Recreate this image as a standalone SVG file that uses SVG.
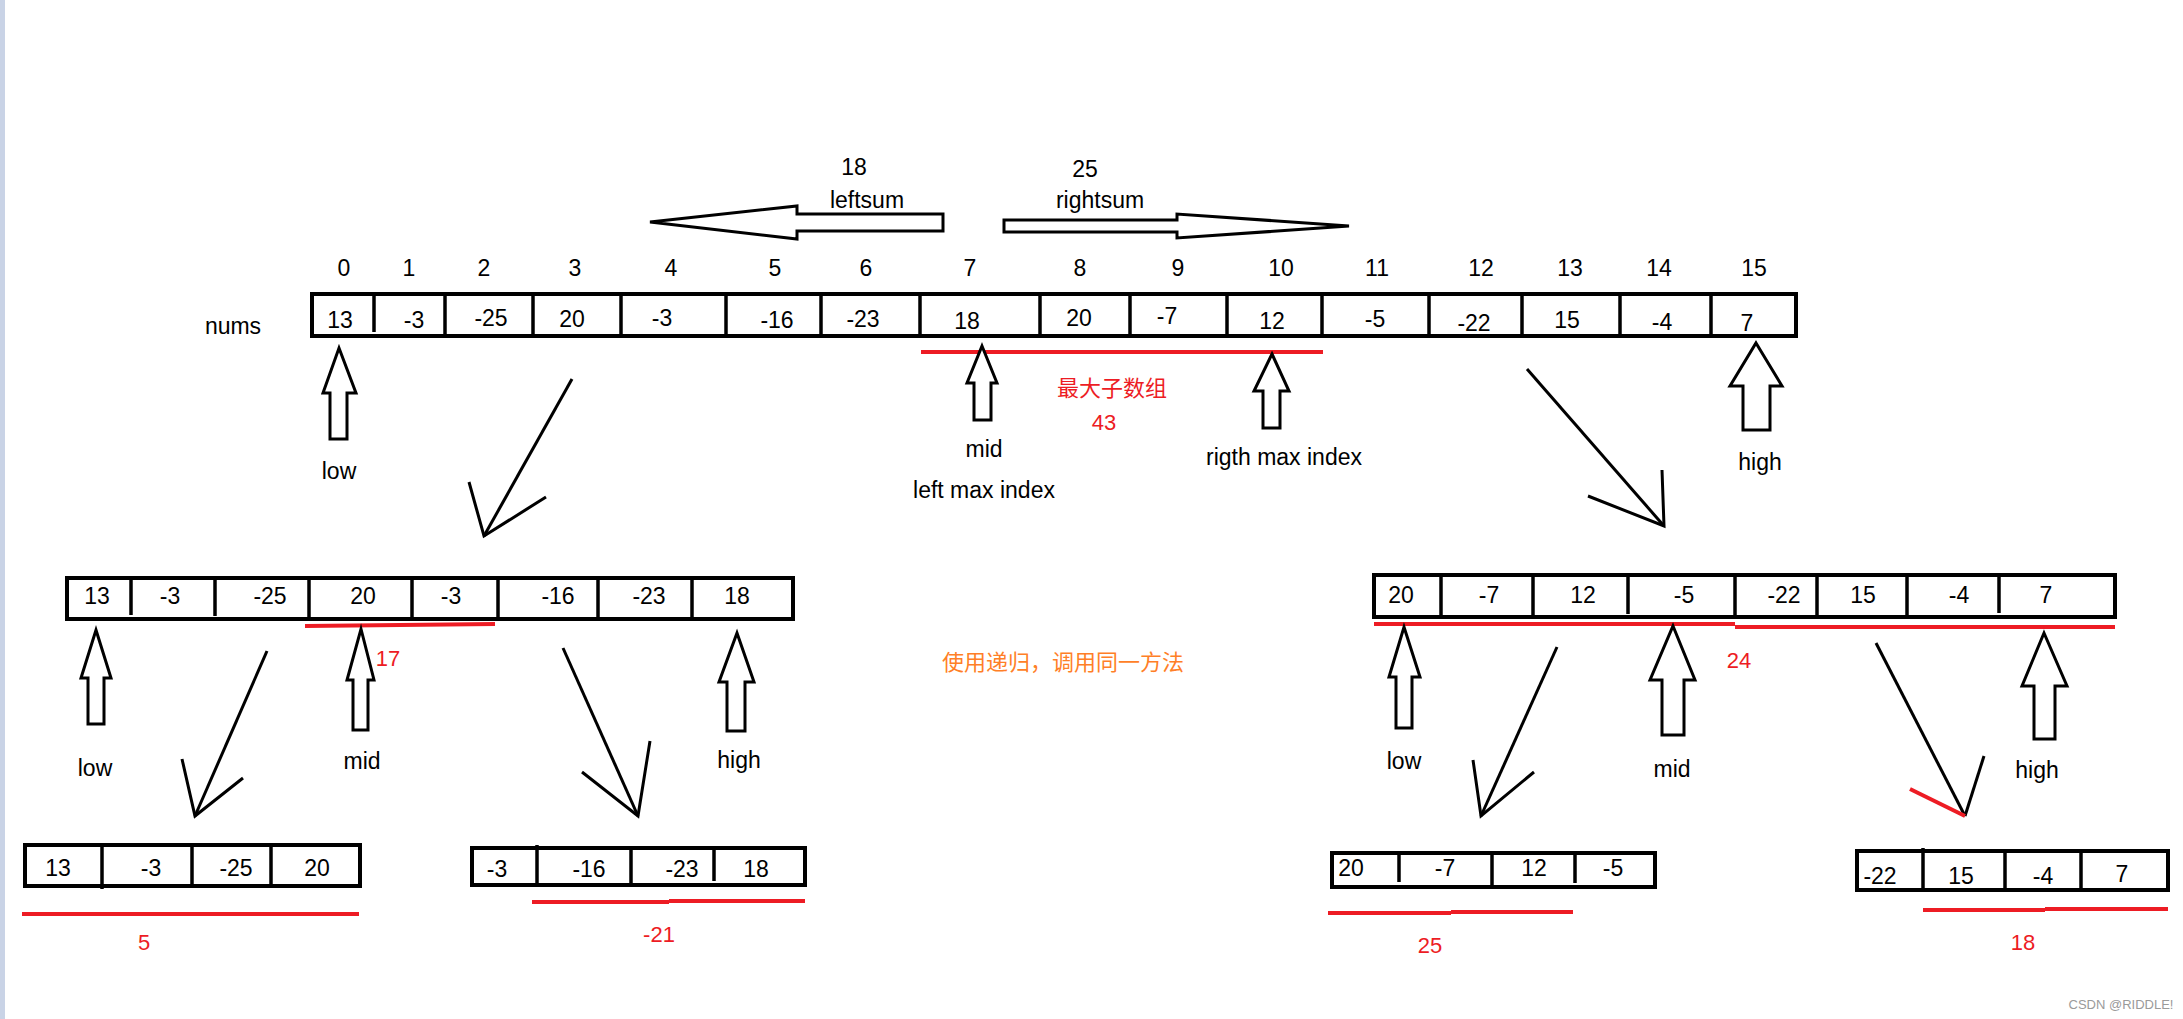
<svg xmlns="http://www.w3.org/2000/svg" width="2183" height="1019" viewBox="0 0 2183 1019">
<style>
text{font-family:"Liberation Sans","Noto Sans CJK SC",sans-serif;text-anchor:middle;dominant-baseline:central}
.t{font-size:23px;fill:#000}
.r{font-size:22px;fill:#ed1c24}
.o{font-size:22px;fill:#ff7f27}
.box{fill:#fff;stroke:#000;stroke-width:4}
.dv{stroke:#000;stroke-width:3.5}
.ba{fill:#fff;stroke:#000;stroke-width:3;stroke-linejoin:miter}
.ln{fill:none;stroke:#000;stroke-width:3}
.rl{stroke:#ed1c24;stroke-width:4;fill:none}
</style>
<rect width="2183" height="1019" fill="#fff"/>
<rect x="0" y="0" width="5" height="1019" fill="#c9d3e6"/>

<g id="sum-arrows">
<polygon class="ba" points="650,222 797,206 797,214 943,214 943,231 797,231 797,239"/>
<polygon class="ba" points="1349,226 1177,214 1177,220 1004,220 1004,232 1177,232 1177,238"/>
<text class="t" x="854" y="167">18</text>
<text class="t" x="867" y="200">leftsum</text>
<text class="t" x="1085" y="169">25</text>
<text class="t" x="1100" y="200">rightsum</text>
</g>

<g id="main-array">
<text class="t" x="233" y="326">nums</text>
<rect class="box" x="312" y="294" width="1484" height="42"/>
<line class="dv" x1="374" y1="294" x2="374" y2="332"/>
<line class="dv" x1="445" y1="294" x2="445" y2="336"/>
<line class="dv" x1="533" y1="294" x2="533" y2="336"/>
<line class="dv" x1="621" y1="294" x2="621" y2="336"/>
<line class="dv" x1="726" y1="294" x2="726" y2="336"/>
<line class="dv" x1="821" y1="294" x2="821" y2="336"/>
<line class="dv" x1="920" y1="294" x2="920" y2="336"/>
<line class="dv" x1="1040" y1="294" x2="1040" y2="336"/>
<line class="dv" x1="1130" y1="294" x2="1130" y2="336"/>
<line class="dv" x1="1227" y1="294" x2="1227" y2="336"/>
<line class="dv" x1="1322" y1="294" x2="1322" y2="336"/>
<line class="dv" x1="1429" y1="294" x2="1429" y2="336"/>
<line class="dv" x1="1522" y1="294" x2="1522" y2="336"/>
<line class="dv" x1="1620" y1="294" x2="1620" y2="336"/>
<line class="dv" x1="1711" y1="294" x2="1711" y2="336"/>
<text class="t" x="344" y="268">0</text>
<text class="t" x="409" y="268">1</text>
<text class="t" x="484" y="268">2</text>
<text class="t" x="575" y="268">3</text>
<text class="t" x="671" y="268">4</text>
<text class="t" x="775" y="268">5</text>
<text class="t" x="866" y="268">6</text>
<text class="t" x="970" y="268">7</text>
<text class="t" x="1080" y="268">8</text>
<text class="t" x="1178" y="268">9</text>
<text class="t" x="1281" y="268">10</text>
<text class="t" x="1377" y="268">11</text>
<text class="t" x="1481" y="268">12</text>
<text class="t" x="1570" y="268">13</text>
<text class="t" x="1659" y="268">14</text>
<text class="t" x="1754" y="268">15</text>
<text class="t" x="340" y="320">13</text>
<text class="t" x="414" y="320">-3</text>
<text class="t" x="491" y="318">-25</text>
<text class="t" x="572" y="319">20</text>
<text class="t" x="662" y="318">-3</text>
<text class="t" x="777" y="320">-16</text>
<text class="t" x="863" y="319">-23</text>
<text class="t" x="967" y="321">18</text>
<text class="t" x="1079" y="318">20</text>
<text class="t" x="1167" y="316">-7</text>
<text class="t" x="1272" y="321">12</text>
<text class="t" x="1375" y="319">-5</text>
<text class="t" x="1474" y="323">-22</text>
<text class="t" x="1567" y="320">15</text>
<text class="t" x="1662" y="322">-4</text>
<text class="t" x="1747" y="323">7</text>
<line class="rl" x1="921" y1="352" x2="1323" y2="352"/>
<text class="r" x="1112" y="388">最大子数组</text>
<text class="r" x="1104" y="422">43</text>
</g>

<g id="main-pointers">
<polygon class="ba" points="339,348 356,393 347,393 347,439 330,439 330,393 323,393"/>
<polygon class="ba" points="982,346 997,383 991,383 991,420 974,420 974,383 967,383"/>
<polygon class="ba" points="1272,354 1289,391 1280,391 1280,428 1263,428 1263,391 1254,391"/>
<polygon class="ba" points="1756,343 1782,386 1770,386 1770,430 1743,430 1743,386 1730,386"/>
<text class="t" x="339" y="471">low</text>
<text class="t" x="984" y="449">mid</text>
<text class="t" x="984" y="490">left max index</text>
<text class="t" x="1284" y="457">rigth max index</text>
<text class="t" x="1760" y="462">high</text>
</g>

<g id="left-half">
<rect class="box" x="67" y="578" width="726" height="41"/>
<line class="dv" x1="131" y1="578" x2="131" y2="615"/>
<line class="dv" x1="215" y1="578" x2="215" y2="616"/>
<line class="dv" x1="309" y1="576" x2="309" y2="619"/>
<line class="dv" x1="412" y1="576" x2="412" y2="619"/>
<line class="dv" x1="498" y1="578" x2="498" y2="619"/>
<line class="dv" x1="598" y1="578" x2="598" y2="619"/>
<line class="dv" x1="692" y1="576" x2="692" y2="619"/>
<text class="t" x="97" y="596">13</text>
<text class="t" x="170" y="596">-3</text>
<text class="t" x="270" y="596">-25</text>
<text class="t" x="363" y="596">20</text>
<text class="t" x="451" y="596">-3</text>
<text class="t" x="558" y="596">-16</text>
<text class="t" x="649" y="596">-23</text>
<text class="t" x="737" y="596">18</text>
<line class="rl" x1="305" y1="626" x2="495" y2="624"/>
<text class="r" x="388" y="658">17</text>
<polygon class="ba" points="96,630 111,678 104,678 104,724 88,724 88,678 81,678"/>
<polygon class="ba" points="361,629 374,680 368,680 368,730 353,730 353,680 347,680"/>
<polygon class="ba" points="737,633 754,682 745,682 745,731 727,731 727,682 719,682"/>
<text class="t" x="95" y="768">low</text>
<text class="t" x="362" y="761">mid</text>
<text class="t" x="739" y="760">high</text>
</g>

<g id="right-half">
<rect class="box" x="1374" y="575" width="741" height="42"/>
<line class="dv" x1="1441" y1="575" x2="1441" y2="617"/>
<line class="dv" x1="1533" y1="573" x2="1533" y2="617"/>
<line class="dv" x1="1628" y1="575" x2="1628" y2="614"/>
<line class="dv" x1="1735" y1="575" x2="1735" y2="617"/>
<line class="dv" x1="1817" y1="573" x2="1817" y2="617"/>
<line class="dv" x1="1907" y1="575" x2="1907" y2="617"/>
<line class="dv" x1="1999" y1="575" x2="1999" y2="613"/>
<text class="t" x="1401" y="595">20</text>
<text class="t" x="1489" y="595">-7</text>
<text class="t" x="1583" y="595">12</text>
<text class="t" x="1684" y="595">-5</text>
<text class="t" x="1784" y="595">-22</text>
<text class="t" x="1863" y="595">15</text>
<text class="t" x="1959" y="595">-4</text>
<text class="t" x="2046" y="595">7</text>
<line class="rl" x1="1374" y1="624" x2="1735" y2="624"/>
<line class="rl" x1="1735" y1="627" x2="2115" y2="627"/>
<text class="r" x="1739" y="660">24</text>
<polygon class="ba" points="1404,627 1420,677 1412,677 1412,728 1396,728 1396,677 1389,677"/>
<polygon class="ba" points="1673,626 1695,680 1684,680 1684,735 1662,735 1662,680 1650,680"/>
<polygon class="ba" points="2044,633 2067,686 2055,686 2055,739 2034,739 2034,686 2022,686"/>
<text class="t" x="1404" y="761">low</text>
<text class="t" x="1672" y="769">mid</text>
<text class="t" x="2037" y="770">high</text>
</g>

<text class="o" x="1063" y="662">使用递归，调用同一方法</text>

<g id="leaf-ll">
<rect class="box" x="25" y="845" width="335" height="41"/>
<line class="dv" x1="102" y1="845" x2="102" y2="889"/>
<line class="dv" x1="192" y1="845" x2="192" y2="886"/>
<line class="dv" x1="271" y1="845" x2="271" y2="886"/>
<text class="t" x="58" y="868">13</text>
<text class="t" x="151" y="868">-3</text>
<text class="t" x="236" y="868">-25</text>
<text class="t" x="317" y="868">20</text>
<line class="rl" x1="22" y1="914" x2="359" y2="914"/>
<text class="r" x="144" y="942">5</text>
</g>

<g id="leaf-lr">
<rect class="box" x="472" y="848" width="333" height="37"/>
<line class="dv" x1="537" y1="845" x2="537" y2="885"/>
<line class="dv" x1="631" y1="848" x2="631" y2="885"/>
<line class="dv" x1="714" y1="848" x2="714" y2="881"/>
<text class="t" x="497" y="869">-3</text>
<text class="t" x="589" y="869">-16</text>
<text class="t" x="682" y="869">-23</text>
<text class="t" x="756" y="869">18</text>
<line class="rl" x1="532" y1="902" x2="669" y2="902"/>
<line class="rl" x1="669" y1="901" x2="805" y2="901"/>
<text class="r" x="659" y="934">-21</text>
</g>

<g id="leaf-rl">
<rect class="box" x="1332" y="853" width="323" height="34"/>
<line class="dv" x1="1399" y1="853" x2="1399" y2="882"/>
<line class="dv" x1="1492" y1="853" x2="1492" y2="887"/>
<line class="dv" x1="1575" y1="853" x2="1575" y2="883"/>
<text class="t" x="1351" y="868">20</text>
<text class="t" x="1445" y="868">-7</text>
<text class="t" x="1534" y="868">12</text>
<text class="t" x="1613" y="868">-5</text>
<line class="rl" x1="1328" y1="913" x2="1451" y2="913"/>
<line class="rl" x1="1451" y1="912" x2="1573" y2="912"/>
<text class="r" x="1430" y="945">25</text>
</g>

<g id="leaf-rr">
<rect class="box" x="1857" y="851" width="311" height="39"/>
<line class="dv" x1="1923" y1="848" x2="1923" y2="890"/>
<line class="dv" x1="2005" y1="851" x2="2005" y2="890"/>
<line class="dv" x1="2081" y1="851" x2="2081" y2="892"/>
<text class="t" x="1880" y="876">-22</text>
<text class="t" x="1961" y="876">15</text>
<text class="t" x="2043" y="876">-4</text>
<text class="t" x="2122" y="874">7</text>
<line class="rl" x1="1923" y1="910" x2="2045" y2="910"/>
<line class="rl" x1="2045" y1="909" x2="2168" y2="909"/>
<text class="r" x="2023" y="942">18</text>
</g>

<g id="connectors">
<line class="ln" x1="572" y1="379" x2="484" y2="536"/>
<polyline class="ln" points="469,482 484,536 546,497"/>
<line class="ln" x1="1527" y1="369" x2="1664" y2="526"/>
<polyline class="ln" points="1588,496 1664,526 1662,470"/>
<line class="ln" x1="267" y1="651" x2="195" y2="816"/>
<polyline class="ln" points="182,759 195,816 243,778"/>
<line class="ln" x1="563" y1="648" x2="638" y2="816"/>
<polyline class="ln" points="582,772 638,816 650,741"/>
<line class="ln" x1="1557" y1="647" x2="1481" y2="816"/>
<polyline class="ln" points="1473,760 1481,816 1534,772"/>
<line class="ln" x1="1876" y1="643" x2="1965" y2="816"/>
<line class="ln" x1="1984" y1="756" x2="1965" y2="816"/>
<line class="rl" x1="1910" y1="789" x2="1965" y2="816"/>
</g>

<text x="2121" y="1004" style="font-size:13px;fill:#9a9a9a">CSDN @RIDDLE!</text>
</svg>
